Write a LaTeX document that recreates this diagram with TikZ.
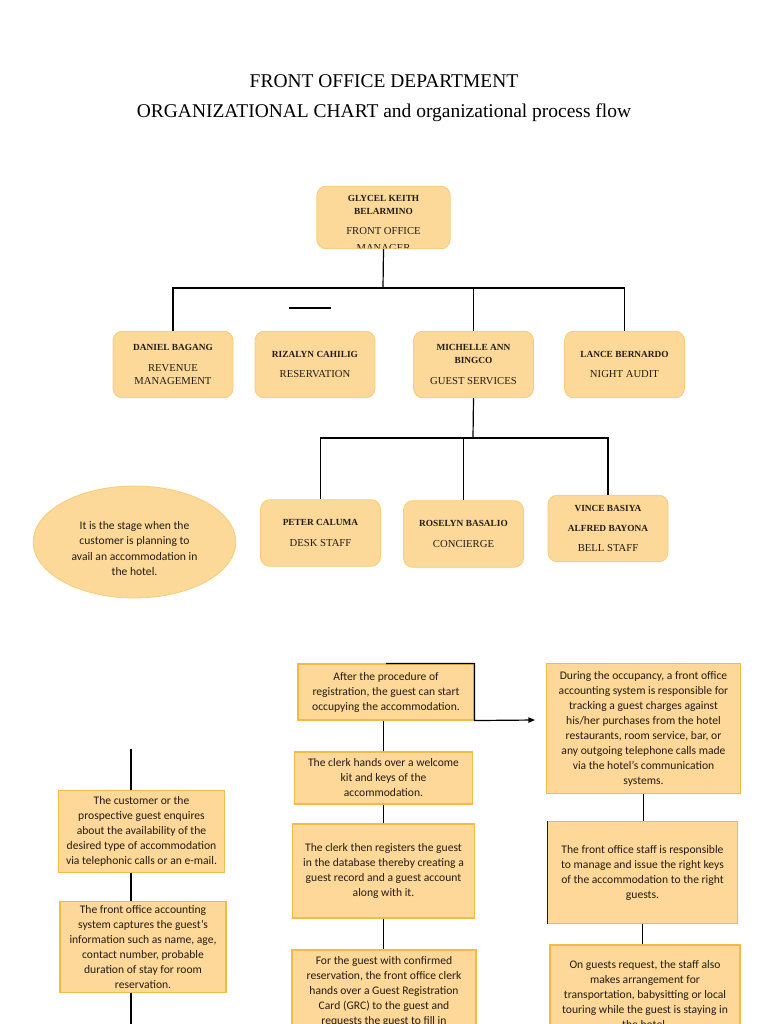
\documentclass[tikz,border=0pt]{standalone}
\usepackage{fontspec}
\setmainfont{Liberation Serif}
\newfontfamily\calibri{Carlito}
\usetikzlibrary{shapes.geometric,arrows.meta}
\definecolor{boxfill}{RGB}{252,217,153}
\definecolor{boxline}{RGB}{250,203,118}
\definecolor{stepfill}{RGB}{254,216,152}
\definecolor{stepline}{RGB}{242,186,70}
\definecolor{ink}{RGB}{35,28,20}
\newcommand\person[1]{{\bfseries\fontsize{7}{9}\selectfont #1}}
\begin{document}
\begin{tikzpicture}[x=0.75pt,y=-0.75pt,line width=0.9pt,
orgbox/.style={draw=boxline,fill=boxfill,rounded corners=7pt,line width=0.6pt,align=center,text=ink,
  minimum width=90pt,minimum height=50pt,inner sep=2pt,font=\fontsize{8}{9.75}\selectfont},
flowbox/.style={draw=stepline,fill=stepfill,line width=0.8pt,align=center,text=ink,inner sep=3pt,
  font=\calibri\fontsize{8.7}{11.25}\selectfont},
heading/.style={font=\fontsize{14.6}{17}\selectfont}]
\useasboundingbox (0,0) rectangle (768,1024);
\node[heading] (title) at (384,81) {FRONT OFFICE DEPARTMENT};
\node[heading] (subtitle) at (384,113) {ORGANIZATIONAL CHART and organizational process flow};

\node[orgbox,minimum width=100pt,minimum height=47pt,
  path picture={\node[anchor=north,align=center,text=ink,inner sep=0pt,draw=none,fill=none,minimum size=0pt,
    rounded corners=0pt,font=\fontsize{8}{9.75}\selectfont] at ([yshift=-6.4pt]path picture bounding box.north)
    {\person{GLYCEL KEITH}\\\person{BELARMINO}\\[5.5pt]FRONT OFFICE\\[3pt]MANAGER};}] (mgr) at (383.5,217.5) {};
\node[orgbox] (rev) at (173,364.5) {\person{DANIEL BAGANG}\\[5.5pt]REVENUE\\MANAGEMENT};
\node[orgbox] (resv) at (315,364.5) {\person{RIZALYN CAHILIG}\\[5.5pt]RESERVATION};
\node[orgbox] (guest) at (473.5,364.5) {\person{MICHELLE ANN}\\\person{BINGCO}\\[5.5pt]GUEST SERVICES};
\node[orgbox] (night) at (624.5,364.5) {\person{LANCE BERNARDO}\\[5.5pt]NIGHT AUDIT};
\node[orgbox] (desk) at (320.5,533) {\person{PETER CALUMA}\\[5.5pt]DESK STAFF};
\node[orgbox] (conc) at (463.5,534) {\person{ROSELYN BASALIO}\\[5.5pt]CONCIERGE};
\node[orgbox] (bell) at (608,528.5) {\person{VINCE BASIYA}\\[5.5pt]\person{ALFRED BAYONA}\\[5.5pt]BELL STAFF};

\coordinate (top) at (383,288);
\draw (mgr.south) -- (top);
\draw (rev.north) |- (top) -| (night.north);
\draw (guest.north) -- (guest.north |- top);
\draw (289,308) -- (331,308);
\coordinate (sub) at (473,438);
\draw (guest.south) -- (sub);
\draw (desk.north) |- (sub) -| (bell.north);
\draw (conc.north) -- (conc.north |- sub);

\node[ellipse,draw=boxline,fill=boxfill,line width=0.6pt,minimum width=152pt,minimum height=84pt] (stage) at (134.5,542) {};
\node[align=center,text=ink,font=\calibri\fontsize{8.7}{11.6}\selectfont] (stagetext) at ([yshift=-5pt]stage.center)
  {It is the stage when the\\customer is planning to\\avail an accommodation in\\the hotel.};

\node[flowbox,minimum width=132pt,minimum height=42pt] (occupy) at (386,692)
  {After the procedure of\\registration, the guest can start\\occupying the accommodation.};
\node[flowbox,minimum width=133pt,minimum height=39pt] (kit) at (383.5,778)
  {The clerk hands over a welcome\\kit and keys of the\\accommodation.};
\node[flowbox,minimum width=136pt,minimum height=70.5pt] (record) at (383.5,871)
  {The clerk then registers the guest\\in the database thereby creating a\\guest record and a guest account\\along with it.};
\node[flowbox,minimum width=138pt,minimum height=61.5pt] (grc) at (384,991)
  {For the guest with confirmed\\reservation, the front office clerk\\hands over a Guest Registration\\Card (GRC) to the guest and\\requests the guest to fill in};

\node[flowbox,minimum width=125pt,minimum height=62pt] (enquire) at (141.5,831.5)
  {The customer or the\\prospective guest enquires\\about the availability of the\\desired type of accommodation\\via telephonic calls or an e-mail.};
\node[flowbox,minimum width=124.5pt,minimum height=64.5pt] (capture) at (143,947)
  {The front office accounting\\system captures the guest’s\\information such as name, age,\\contact number, probable\\duration of stay for room\\reservation.};

\node[flowbox,minimum width=145pt,minimum height=97pt] (charge) at (643.5,728.5)
  {During the occupancy, a front office\\accounting system is responsible for\\tracking a guest charges against\\his/her purchases from the hotel\\restaurants, room service, bar, or\\any outgoing telephone calls made\\via the hotel’s communication\\systems.};
\node[flowbox,minimum width=142pt,minimum height=76pt] (keys) at (642.5,872.5)
  {The front office staff is responsible\\to manage and issue the right keys\\of the accommodation to the right\\guests.};
\node[flowbox,minimum width=142.5pt,minimum height=75pt] (extra) at (645,995)
  {On guests request, the staff also\\makes arrangement for\\transportation, babysitting or local\\touring while the guest is staying in\\the hotel.};
\draw[ink,line width=1pt] (keys.north west) -- (keys.south west);

\coordinate (next) at (535,720);
\draw[-{Triangle[length=5pt,width=4pt]}] (occupy.north) -- (occupy.north east) -- (occupy.south east) -- (next);
\draw ([xshift=-2pt]occupy.south) -- ([xshift=-2pt]occupy.south |- kit.north);
\draw (kit.south) -- (record.north);
\draw (record.south) -- (record.south |- grc.north);
\draw (charge.south) -- (charge.south |- keys.north);
\draw (keys.south) -- (keys.south |- extra.north);

\coordinate (lefttop) at (131,749);
\coordinate (leftend) at (131,1024);
\draw (lefttop) -- (lefttop |- enquire.north);
\draw (enquire.south -| lefttop) -- (capture.north -| lefttop);
\draw (capture.south -| lefttop) -- (leftend);
\end{tikzpicture}
\end{document}
